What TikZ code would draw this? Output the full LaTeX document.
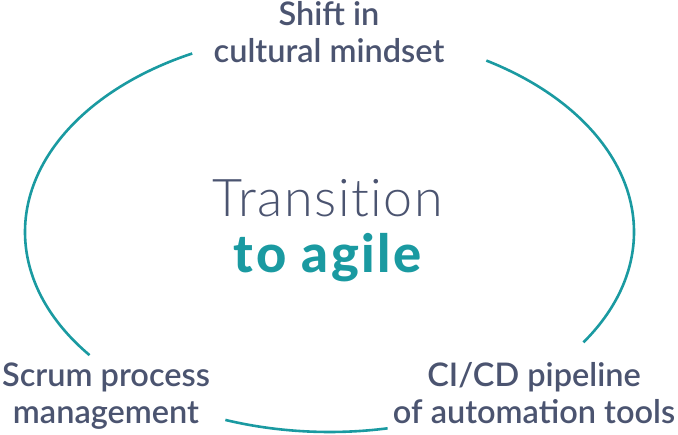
\documentclass[tikz,border=0pt]{standalone}
\usepackage{fontspec}
\setmainfont{Lato}
\IfFontExistsTF{Lato Semibold}{\newfontfamily\lblfont{Lato Semibold}}{\newcommand\lblfont{\bfseries}}
\IfFontExistsTF{Lato Light}{\newfontfamily\thinfont{Lato Light}[Ligatures=NoCommon, LetterSpace=3]}{\newcommand\thinfont{\normalfont}}
\IfFontExistsTF{Lato Heavy}{\newfontfamily\agilefont{Lato Heavy}[LetterSpace=5]}{\newfontfamily\agilefont{Lato}[UprightFont=*-Bold, LetterSpace=6]}
\usetikzlibrary{positioning}
\definecolor{slate}{HTML}{4B5470}
\definecolor{agileteal}{HTML}{1A9AA1}
\tikzset{
    x=1pt,
    y=1pt,
    stagetext/.style = {
        text=slate,
        font=\lblfont\fontsize{32.5}{37}\selectfont,
        align=center,
        anchor=base,
        inner sep=0pt
    },
    loop arc/.style = {
        draw=agileteal,
        line width=2.6pt
    },
    cycle arc/.style = {
        x radius=304.5,
        y radius=200
    },
}

\begin{document}
\begin{tikzpicture}
            \useasboundingbox (0,0) rectangle (678,435);
            \coordinate (hub) at (329.5,203);

            % base anchor sits on the last line
            \node[stagetext] (culture) at (329,372) {Shift in\\cultural mindset};
            \node[stagetext] (scrum) at (106,11) {Scrum process\\management};
            \node[stagetext] (cicd) at (534,11) {CI/CD pipeline\\of automation tools};

            \node[anchor=base, inner sep=0pt, text=slate, font=\thinfont\fontsize{52}{60}\selectfont] (transition) at (328,218) {Transition};
            \node[inner sep=0pt, text=agileteal, font=\agilefont\fontsize{52.5}{58}\selectfont, below=56 of transition.base, anchor=base] (agile) {to agile};

            \path[loop arc] (hub) ++(59:304.5 and 200) arc[cycle arc, start angle=59, end angle=-33.5];
            \path[loop arc] (hub) ++(-79:304.5 and 200) arc[cycle arc, start angle=-79, end angle=-110];
            \path[loop arc] (hub) ++(-142:304.5 and 200) arc[cycle arc, start angle=-142, end angle=-243.2];
\end{tikzpicture}
\end{document}
